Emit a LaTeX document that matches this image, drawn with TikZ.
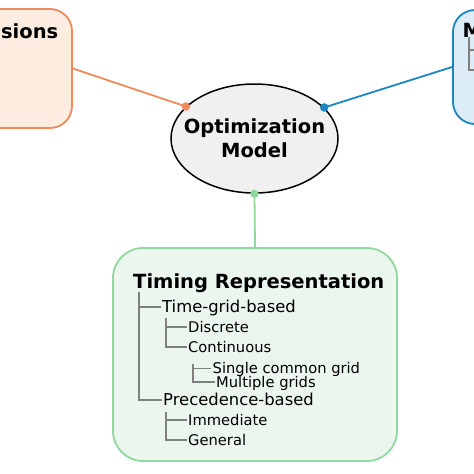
\documentclass[tikz,border=0pt]{standalone}
\usepackage{fontspec}
\setmainfont{DejaVu Sans}
\usetikzlibrary{shapes.geometric,calc}
\definecolor{orgline}{RGB}{240,138,90}
\definecolor{orgfill}{RGB}{253,236,224}
\definecolor{blueline}{RGB}{27,134,192}
\definecolor{bluefill}{RGB}{221,237,248}
\definecolor{grnline}{RGB}{144,216,160}
\definecolor{grnfill}{RGB}{235,246,238}
\definecolor{ellfill}{RGB}{240,240,240}
\definecolor{treegray}{RGB}{128,128,128}
\tikzset{
  panel/.style={draw, line width=1.8pt, inner sep=0pt},
  connector/.style={line width=1.8pt},
  dotmark/.style={circle, fill, inner sep=0pt, minimum size=8.5pt},
  headfont/.style={font=\fontsize{19.5}{24}\selectfont\bfseries},
  lvlone/.style={anchor=west, inner sep=1.5pt, text height=11.9pt, text depth=0pt, font=\fontsize{16.4}{19}\selectfont},
  lvltwo/.style={anchor=west, inner sep=1.5pt, text height=10.7pt, text depth=0pt, font=\fontsize{14.7}{17}\selectfont},
  treeline/.style={draw=treegray, line width=1.2pt}
}
\begin{document}
\begin{tikzpicture}[x=1pt,y=-1pt]
\useasboundingbox (0,0) rectangle (474,474);
\clip (0,0) rectangle (474,474);
\fill[white] (0,0) rectangle (474,474);

% left box (cut off)
\node[panel, draw=orgline, fill=orgfill, rounded corners=22pt,
      minimum width=222pt, minimum height=119pt] (lbox) at (-39,68.5) {};
\node[headfont, anchor=base east, inner sep=0pt] (ltitle) at (58.5,38) {sions};

% right box (cut off)
\node[panel, draw=blueline, fill=bluefill, rounded corners=22pt,
      minimum width=167pt, minimum height=114pt] (rbox) at (536.5,67) {};
\node[headfont, anchor=base west, inner sep=0pt] (rtitle) at (462.5,37) {M};
\coordinate (rv) at (469,37);
\coordinate (rend) at (480,70);
\draw[treeline] (rv) |- (rend);
\draw[treeline] ($(rv)+(0,13)$) -- ($(rend)+(0,-20)$);

% central ellipse
\node[ellipse, draw=black, line width=1.5pt, fill=ellfill,
      minimum width=167pt, minimum height=109pt, inner sep=0pt] (opt) at (254.5,138.5) {};
\node[align=center, headfont, inner sep=0pt] (opttext) at (opt.center) {Optimization\\Model};

% green box
\node[panel, draw=grnline, fill=grnfill, rounded corners=30pt,
      minimum width=284pt, minimum height=213pt] (gbox) at (255,354.5) {};

% connectors
\draw[connector, orgline] (lbox.east) -- (opt.155);
\node[dotmark, fill=orgline] (d1) at (opt.155) {};
\draw[connector, blueline] (rbox.west) -- (opt.24.5);
\node[dotmark, fill=blueline] (d2) at (opt.24.5) {};
\draw[connector, grnline] (opt.south) -- (gbox.north);
\node[dotmark, fill=grnline] (d3) at (opt.south) {};

% timing tree
\node[headfont, anchor=base west, inner sep=0pt] (ttitle) at (133,288) {Timing Representation};
\node[lvlone] (tg) at (160.5,307) {Time-grid-based};
\node[lvltwo] (disc) at (186.5,327) {Discrete};
\node[lvltwo] (cont) at (186.5,347) {Continuous};
\node[lvltwo] (single) at (211,368.5) {Single common grid};
\node[lvltwo] (mult) at (214.5,382) {Multiple grids};
\node[lvlone] (prec) at (161.5,400) {Precedence-based};
\node[lvltwo] (imm) at (186.5,420) {Immediate};
\node[lvltwo] (gen) at (186.5,440) {General};

\coordinate (v1) at (139,292);
\draw[treeline] (v1) |- (prec.west);
\draw[treeline] (tg.west) -- (tg.west -| v1);
\coordinate (v2) at (166,318);
\draw[treeline] (v2) |- (cont.west);
\draw[treeline] (disc.west) -- (disc.west -| v2);
\coordinate (v3) at (193,364);
\draw[treeline] (v3) |- (mult.west);
\draw[treeline] (single.west) -- (single.west -| v3);
\coordinate (v4) at (166,412);
\draw[treeline] (v4) |- (gen.west);
\draw[treeline] (imm.west) -- (imm.west -| v4);
\end{tikzpicture}
\end{document}
